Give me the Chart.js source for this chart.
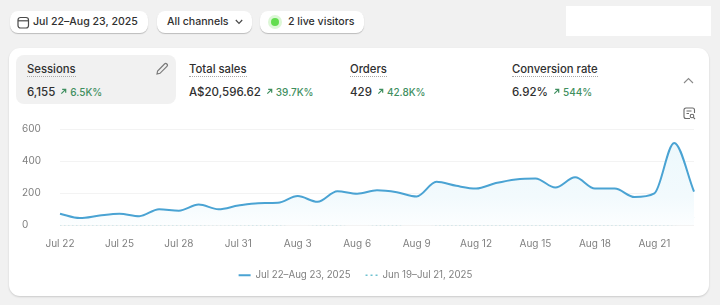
<!DOCTYPE html>
<html>
<head>
<meta charset="utf-8">
<title>Sessions</title>
<script src="https://cdn.jsdelivr.net/npm/chart.js@4/dist/chart.umd.min.js"></script>
<style>
  html, body { margin: 0; padding: 0; }
  body { width: 720px; height: 305px; background: #f1f1f1; overflow: hidden; position: relative;
         font-family: Inter, "Noto Sans", sans-serif; color: #303030; }
  .btn { position: absolute; top: 11px; height: 22px; background: #fff; border-radius: 8px;
         box-shadow: 0 1px 1px rgba(0,0,0,.22); font-size: 10.6px; font-weight: 500; line-height: 22px; white-space: nowrap; }
  .btn span, .btn svg, .btn i { position: absolute; }
  .blank { position: absolute; left: 566px; top: 6px; width: 145px; height: 30px; background: #fff; }
  .card { position: absolute; left: 9px; top: 48px; width: 700px; height: 248px; background: #fff;
          border-radius: 11px; box-shadow: 0 1px 2px rgba(0,0,0,.16); }
  .tab-bg { position: absolute; left: 16px; top: 55px; width: 160px; height: 49px; background: #f1f1f1; border-radius: 8px; }
  .metric { position: absolute; top: 62px; white-space: nowrap; }
  .metric .name { display: block; width: fit-content; font-size: 11.3px; font-weight: 500; line-height: 14px; border-bottom: 1px dotted #a8a8a8; }
  .metric .row { position: absolute; left: 0; top: 20px; line-height: 16px; }
  .metric .val { font-size: 11.5px; font-weight: 500; }
  .metric .pct { font-size: 10px; font-weight: 500; color: #3f8f5f; margin-left: 15px; position: relative; }
  .metric .pct svg { position: absolute; left: -10px; top: 2px; }
  .icon { position: absolute; }
  canvas { position: absolute; left: 0; top: 0; }
</style>
</head>
<body>
<div class="btn" style="left:10px;width:138px">
  <svg style="left:7px;top:5px" width="13" height="13" viewBox="0 0 13 13" fill="none" stroke="#4a4a4a" stroke-width="1.2"><rect x="1" y="1.5" width="10.5" height="10.5" rx="2.5"/><path d="M1 4.8h10.5"/></svg>
  <span style="left:23px">Jul 22–Aug 23, 2025</span>
</div>
<div class="btn" style="left:157px;width:95px">
  <span style="left:10px">All channels</span>
  <svg style="left:78px;top:8px" width="8" height="6" viewBox="0 0 8 6" fill="none" stroke="#4a4a4a" stroke-width="1.2"><path d="M.8 1l3.2 3.4L7.2 1"/></svg>
</div>
<div class="btn" style="left:260px;width:104px">
  <i style="left:11px;top:7px;width:8px;height:8px;border-radius:50%;background:#62dd4e;box-shadow:0 0 0 3px #dcf7d6"></i>
  <span style="left:28px">2 live visitors</span>
</div>
<div class="blank"></div>
<div class="card"></div>
<div class="tab-bg"></div>

<div class="metric" style="left:27px"><span class="name">Sessions</span>
  <div class="row"><span class="val">6,155</span><span class="pct"><svg width="7" height="7" viewBox="0 0 8 8" fill="none" stroke="#3f8f5f" stroke-width="1.4"><path d="M1.5 6.5l5-5M2.5 1.5h4v4"/></svg>6.5K%</span></div></div>
<div class="metric" style="left:189px"><span class="name">Total sales</span>
  <div class="row"><span class="val">A$20,596.62</span><span class="pct"><svg width="7" height="7" viewBox="0 0 8 8" fill="none" stroke="#3f8f5f" stroke-width="1.4"><path d="M1.5 6.5l5-5M2.5 1.5h4v4"/></svg>39.7K%</span></div></div>
<div class="metric" style="left:350px"><span class="name">Orders</span>
  <div class="row"><span class="val">429</span><span class="pct"><svg width="7" height="7" viewBox="0 0 8 8" fill="none" stroke="#3f8f5f" stroke-width="1.4"><path d="M1.5 6.5l5-5M2.5 1.5h4v4"/></svg>42.8K%</span></div></div>
<div class="metric" style="left:512px"><span class="name">Conversion rate</span>
  <div class="row"><span class="val">6.92%</span><span class="pct"><svg width="7" height="7" viewBox="0 0 8 8" fill="none" stroke="#3f8f5f" stroke-width="1.4"><path d="M1.5 6.5l5-5M2.5 1.5h4v4"/></svg>544%</span></div></div>

<svg class="icon" style="left:155px;top:62px" width="14" height="14" viewBox="0 0 14 14" fill="none" stroke="#7a7a7a" stroke-width="1.2"><path d="M2 12l.6-3L9.5 2a1.5 1.5 0 0 1 2.4 2.3L5 11.3z"/></svg>
<svg class="icon" style="left:683px;top:77px" width="11" height="7" viewBox="0 0 11 7" fill="none" stroke="#8a8a8a" stroke-width="1.1"><path d="M1 6l4.5-4.5L10 6"/></svg>
<svg class="icon" style="left:683px;top:107px" width="13" height="13" viewBox="0 0 13 13" fill="none" stroke="#6a6a6a" stroke-width="1.1"><path d="M7 11.5H3A2 2 0 0 1 1 9.5V3a2 2 0 0 1 2-2h6.5a2 2 0 0 1 2 2v3"/><path d="M3.5 4h5M3.5 6.5h2.5"/><circle cx="9" cy="9" r="1.8"/><path d="M10.4 10.4l1.6 1.6"/></svg>

<canvas id="chart" width="720" height="305"></canvas>

<script>
// One label per day, Jul 22 to Aug 23
const days = ['Jul 22','Jul 23','Jul 24','Jul 25','Jul 26','Jul 27','Jul 28','Jul 29','Jul 30','Jul 31',
  'Aug 1','Aug 2','Aug 3','Aug 4','Aug 5','Aug 6','Aug 7','Aug 8','Aug 9','Aug 10','Aug 11','Aug 12',
  'Aug 13','Aug 14','Aug 15','Aug 16','Aug 17','Aug 18','Aug 19','Aug 20','Aug 21','Aug 22','Aug 23'];

const sessions = [72,45,61,72,57,100,91,129,100,123,138,140,182,146,212,197,218,206,180,271,246,229,263,286,292,235,299,229,229,176,199,513,210];
const previousSessions = [0,0,0,0,0,0,0,2,3,2,0,1,11,1,1,11,1,0,22,2,0,0,0,0,0,0,0,0,0,0,1,4,50];

const yTicks = [0,200,400,600];
const seriesNames = ['Jul 22–Aug 23, 2025','Jun 19–Jul 21, 2025'];

const lineBlue = '#4aa3d3';
const dotTeal = '#6fc2d0';

// Legend sits a little left of the plot centre in the reference
const nudgeLegend = {
  id: 'nudgeLegend',
  afterLayout(chart) {
    chart.legend.left -= 2.5;
    chart.legend.right -= 2.5;
  }
};

new Chart(document.getElementById('chart').getContext('2d'), {
  type: 'line',
  plugins: [nudgeLegend],
  data: {
    labels: days,
    datasets: [{
      label: seriesNames[0],
      data: sessions,
      borderColor: lineBlue,
      borderWidth: 2,
      pointRadius: 0,
      cubicInterpolationMode: 'monotone',
      fill: 'origin',
      backgroundColor: function(context) {
        const area = context.chart.chartArea;
        if (!area) return 'rgba(0,0,0,0)';
        const g = context.chart.ctx.createLinearGradient(0, area.top, 0, area.bottom);
        g.addColorStop(0, '#ecf8fc');
        g.addColorStop(0.7, '#f2fafd');
        g.addColorStop(1, '#fcfeff');
        return g;
      }
    }, {
      label: seriesNames[1],
      data: previousSessions,
      borderColor: dotTeal,
      borderWidth: 1.5,
      borderDash: [1.5, 2.5],
      pointRadius: 0,
      cubicInterpolationMode: 'monotone',
      fill: false
    }]
  },
  options: {
    responsive: false,
    animation: false,
    layout: { padding: { left: 22, right: 26, top: 129, bottom: 15 } },
    scales: {
      x: {
        grid: { display: false },
        border: { display: false },
        ticks: {
          autoSkip: false,
          maxRotation: 0,
          padding: 5,
          color: '#7f7f7f',
          font: { family: 'Inter', size: 10 },
          callback: function(value, index) {
            return index % 3 === 0 && index < 31 ? days[index] : '';
          }
        }
      },
      y: {
        min: 0,
        max: 600,
        afterBuildTicks: function(axis) { axis.ticks = yTicks.map(v => ({ value: v })); },
        afterFit: function(axis) { axis.width = 38; },
        grid: { color: '#f3f3f3', drawTicks: false },
        border: { display: false },
        ticks: {
          crossAlign: 'far',
          padding: 0,
          color: '#7f7f7f',
          font: { family: 'Inter', size: 10 }
        }
      }
    },
    plugins: {
      tooltip: { enabled: false },
      legend: {
        position: 'bottom',
        labels: {
          usePointStyle: true,
          pointStyleWidth: 12,
          color: '#7f7f7f',
          font: { family: 'Inter', size: 9.7 },
          padding: 15,
          generateLabels: function(chart) {
            return chart.data.datasets.map((ds, i) => ({
              text: ds.label,
              pointStyle: 'line',
              strokeStyle: ds.borderColor,
              fillStyle: ds.borderColor,
              lineWidth: i === 0 ? 2 : 1.5,
              lineDash: i === 0 ? [] : [2, 3],
              fontColor: '#7f7f7f',
              datasetIndex: i
            }));
          }
        }
      }
    }
  }
});
</script>
</body>
</html>
